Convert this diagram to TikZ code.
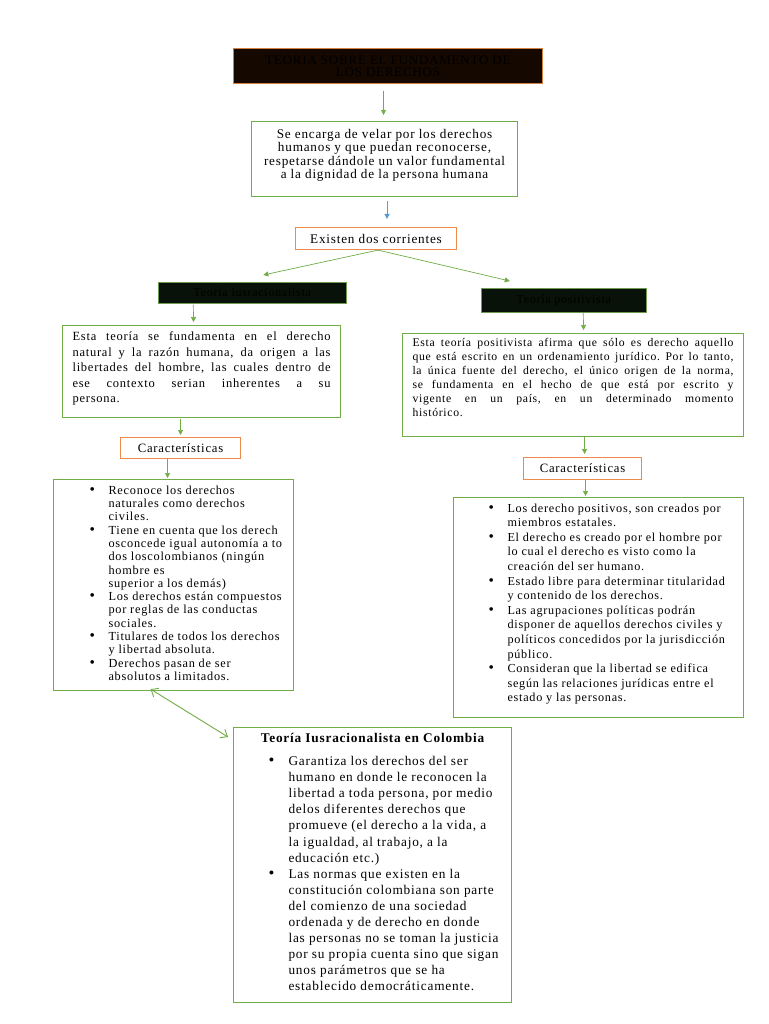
\documentclass[tikz,border=0pt]{standalone}
\usepackage{fontspec}
\setmainfont{Liberation Serif}[LetterSpace=6]
\usetikzlibrary{arrows.meta}
\definecolor{gline}{HTML}{70AD47}
\definecolor{bline}{HTML}{5B9BD5}
\definecolor{oline}{HTML}{EC8A4E}
\definecolor{tfill}{HTML}{150800}
\definecolor{tdraw}{HTML}{D5803F}
\definecolor{dfill}{HTML}{081208}
\definecolor{ddraw}{HTML}{6E9A50}
\frenchspacing
\newcommand{\fsz}[2]{\fontsize{#1pt}{#2pt}\selectfont}
\newcommand{\jl}[1]{\makebox[\dimexpr\linewidth-\leftskip-\rightskip\relax][s]{#1}\par}
\newcommand{\bitem}[2]{\par\hangindent=#1pt\hangafter=1\noindent\makebox[#1pt][l]{\scalebox{1.25}{\textbullet}}#2}
\begin{document}
\begin{tikzpicture}[x=1pt,y=-1pt,
  gbox/.style={draw=gline,line width=1.1pt,inner sep=0pt,anchor=north west,fill=white},
  obox/.style={draw=oline,line width=1.1pt,inner sep=0pt,anchor=north west,fill=white,font=\fsz{12.7}{14}},
  dbox/.style={draw=ddraw,fill=dfill,line width=0.6pt,inner sep=0pt,anchor=north west,font=\fsz{12}{14},text=black},
  garr/.style={gline,line width=0.7pt,-{Triangle[length=5pt,width=5pt]}},
  barr/.style={bline,line width=0.9pt,-{Triangle[length=5pt,width=5pt]}}]
\useasboundingbox[fill=white] (0,0) rectangle (768,1024);

\node[draw=tdraw,fill=tfill,line width=1pt,anchor=north west,minimum width=309pt,minimum height=35pt,inner sep=0pt,align=center,font=\fsz{13}{11.7},text=black] (title) at (233,48) {TEORIA SOBRE EL FUNDAMENTO DE\\LOS DERECHOS};

\node[gbox] (b1) at (251,121) {\parbox[c][75pt][t]{266pt}{\fsz{13.2}{13.3}\centering\rule{0pt}{17pt}Se encarga de velar por los derechos\\ humanos y que puedan reconocerse,\\ respetarse dándole un valor fundamental\\ a la dignidad de la persona humana}};

\node[obox,minimum width=161pt,minimum height=22pt,font=\fsz{13.2}{14}] (ex) at (295,227) {Existen dos corrientes};

\node[dbox,minimum width=188pt,minimum height=21pt] (ius) at (158,282) {Teoría iusracionalista};
\node[dbox,minimum width=165pt,minimum height=24pt] (pos) at (481,288) {Teoría positivista};

\node[gbox] (lt) at (62,325) {\parbox[c][92pt][t]{278pt}{\fsz{12.5}{15.5}\leftskip=10pt\rightskip=10pt\parindent=0pt
\jl{\rule{0pt}{15pt}Esta teoría se fundamenta en el derecho}
\jl{natural y la razón humana, da origen a las}
\jl{libertades del hombre, las cuales dentro de}
\jl{ese contexto serian inherentes a su}
persona.}};

\node[gbox] (rt) at (402,333) {\parbox[c][103pt][t]{341pt}{\fsz{11.7}{14}\leftskip=10pt\rightskip=10pt\parindent=0pt
\jl{\rule{0pt}{12.6pt}Esta teoría positivista afirma que sólo es derecho aquello}
\jl{que está escrito en un ordenamiento jurídico. Por lo tanto,}
\jl{la única fuente del derecho, el único origen de la norma,}
\jl{se fundamenta en el hecho de que está por escrito y}
\jl{vigente en un país, en un determinado momento}
histórico.}};

\node[obox,minimum width=120pt,minimum height=21pt] (c1) at (120,437) {Características};
\node[obox,minimum width=118pt,minimum height=22pt] (c2) at (523,457) {Características};

\node[gbox] (lb) at (53,479) {\parbox[c][211pt][t]{240pt}{\fsz{12.3}{13.3}\parindent=0pt\leftskip=36pt\rightskip=0pt plus 1fil
\bitem{19}{\rule{0pt}{14.7pt}Reconoce los derechos\\ naturales como derechos\\ civiles.}
\bitem{19}{Tiene en cuenta que los derech\\ osconcede igual autonomía a to\\ dos loscolombianos (ningún\\ hombre es\\ superior a los demás)}
\bitem{19}{Los derechos están compuestos\\ por reglas de las conductas\\ sociales.}
\bitem{19}{Titulares de todos los derechos\\ y libertad absoluta.}
\bitem{19}{Derechos pasan de ser\\ absolutos a limitados.}\par}};

\node[gbox] (rb) at (453,497) {\parbox[c][220pt][t]{290pt}{\fsz{12.2}{14.6}\parindent=0pt\leftskip=35pt\rightskip=0pt plus 1fil
\bitem{19}{\rule{0pt}{14.6pt}Los derecho positivos, son creados por\\ miembros estatales.}
\bitem{19}{El derecho es creado por el hombre por\\ lo cual el derecho es visto como la\\ creación del ser humano.}
\bitem{19}{Estado libre para determinar titularidad\\ y contenido de los derechos.}
\bitem{19}{Las agrupaciones políticas podrán\\ disponer de aquellos derechos civiles y\\ políticos concedidos por la jurisdicción\\ público.}
\bitem{19}{Consideran que la libertad se edifica\\ según las relaciones jurídicas entre el\\ estado y las personas.}\par}};

\node[gbox] (bot) at (233,727) {\parbox[c][275pt][t]{278pt}{\fsz{13.3}{16.1}\parindent=0pt
{\centering\bfseries\rule{0pt}{14.5pt}Teoría Iusracionalista en Colombia\par}
\vspace{7.4pt}
\leftskip=35pt\rightskip=0pt plus 1fil
\bitem{20}{Garantiza los derechos del ser\\ humano en donde le reconocen la\\ libertad a toda persona, por medio\\ delos diferentes derechos que\\ promueve (el derecho a la vida, a\\ la igualdad, al trabajo, a la\\ educación etc.)}
\bitem{20}{Las normas que existen en la\\ constitución colombiana son parte\\ del comienzo de una sociedad\\ ordenada y de derecho en donde\\ las personas no se toman la justicia\\ por su propia cuenta sino que sigan\\ unos parámetros que se ha\\ establecido democráticamente.}\par}};

\draw[garr,shorten <=7pt,shorten >=6pt] ([xshift=-4.5pt]title.south) -- ([xshift=-1pt]b1.north);
\draw[barr,shorten <=4pt,shorten >=8pt] ([xshift=2.5pt]b1.south) -- ([xshift=11pt]ex.north);
\draw[garr] ([xshift=2pt]ex.south) -- ([xshift=11pt,yshift=7pt]ius.north);
\draw[garr] ([xshift=2pt]ex.south) -- ([xshift=-54pt,yshift=7pt]pos.north);
\draw[garr,shorten <=1pt,shorten >=3pt] ([xshift=-59pt]ius.south) -- ([xshift=-8pt]lt.north);
\draw[garr,shorten <=1pt,shorten >=2pt] ([xshift=-21pt]lt.south) -- (c1.north);
\draw[garr,shorten >=1pt] ([xshift=-13pt]c1.south) -- ([xshift=-6pt]lb.north);
\draw[garr,shorten >=3pt] ([xshift=19.5pt]pos.south) -- ([xshift=10.5pt]rt.north);
\draw[garr,shorten >=3pt] ([xshift=11.5pt]rt.south) -- ([xshift=2pt]c2.north);
\draw[garr,shorten >=1pt] ([xshift=3pt]c2.south) -- ([xshift=-13pt]rb.north);
\draw[gline,line width=0.9pt,{Straight Barb[length=6pt,width=10pt]}-{Straight Barb[length=6pt,width=10pt]}] ([xshift=-23pt,yshift=2pt]lb.south) -- ([xshift=-5pt,yshift=-10pt]bot.north west);
\end{tikzpicture}
\end{document}
